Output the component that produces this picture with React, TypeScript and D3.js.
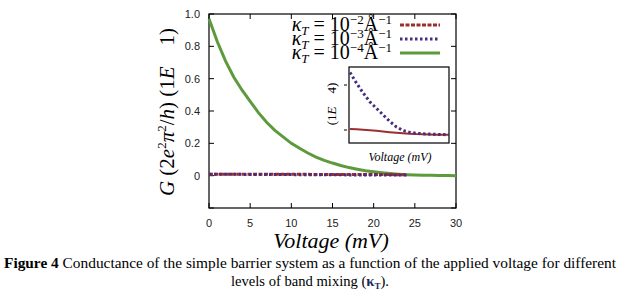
import React from 'react';
import * as d3 from 'd3';

const W = 620;
const H = 293;
const margin = { top: 14, right: 164, bottom: 85, left: 209 };

// voltage samples (mV)
const voltage = [0, 1, 2, 3, 4, 5, 6, 7, 8, 9, 10, 11, 12, 13, 14, 15, 16, 17, 18, 19, 20, 21, 22, 23, 24, 25, 26, 27, 28, 29, 30];
// kappa_T = 1e-4, main panel
const g4 = [0.97, 0.83, 0.71, 0.61, 0.53, 0.46, 0.39, 0.33, 0.28, 0.24, 0.2, 0.17, 0.14, 0.115, 0.095, 0.078, 0.063, 0.05, 0.04, 0.031, 0.024, 0.018, 0.013, 0.009, 0.006, 0.004, 0.003, 0.002, 0.001, 0.0005, 0];
// kappa_T = 1e-2 and 1e-3 in the main panel (near zero)
const mainV = [0, 4, 8, 12, 16, 20, 24];
const g2Main = [0.009, 0.009, 0.008, 0.008, 0.007, 0.007, 0.006];
const g3Main = [0.008, 0.008, 0.007, 0.006, 0.005, 0.004, 0.004];
// inset (units of 1E-4)
const insetV = [0, 2, 4, 6, 8, 10, 12, 14, 16, 18, 20, 22, 24, 26, 28, 30];
const g3Inset = [6.5, 5.5, 4.6, 3.8, 3.2, 2.6, 2.0, 1.5, 1.15, 1.0, 0.9, 0.85, 0.82, 0.8, 0.78, 0.76];
const g2Inset = [1.3, 1.26, 1.22, 1.17, 1.12, 1.06, 1.0, 0.95, 0.9, 0.86, 0.82, 0.8, 0.78, 0.77, 0.76, 0.76];

const xTicks = [0, 5, 10, 15, 20, 25, 30];
const yTicks = [-0.2, 0, 0.2, 0.4, 0.6, 0.8, 1.0];
const yTickLabels = ['', '0', '0.2', '0.4', '0.6', '0.8', '1.0'];

const RED = '#9c2f2c';
const PURPLE = '#4a2c7c';
const GREEN = '#5c9a3c';

const serif = '"Liberation Serif", "DejaVu Serif", serif';
const sans = '"Liberation Sans", "DejaVu Sans", sans-serif';
const nb = '\u00a0';

const x = d3.scaleLinear().domain([0, 30]).range([margin.left, W - margin.right]);
const y = d3.scaleLinear().domain([-0.2, 1.0]).range([H - margin.bottom, margin.top]);

const ix = d3.scaleLinear().domain([0, 30]).range([350, 449]);
const iy = d3.scaleLinear().domain([0, 7]).range([143, 67]);

function lineOf(xs: number[], ys: number[], sx: any, sy: any) {
  return d3.line<number>().x((d, i) => sx(xs[i])).y((d) => sy(d))(ys) || '';
}

const legend = [
  { exp: '−2', color: RED, dash: '4,1.5', width: 3 },
  { exp: '−3', color: PURPLE, dash: '2.5,2.5', width: 3 },
  { exp: '−4', color: GREEN, dash: undefined, width: 3 },
];

export default function App() {
  const x0 = margin.left;
  const x1 = W - margin.right;
  const y0 = margin.top;
  const y1 = H - margin.bottom;
  return (
    <svg width={W} height={H} style={{ position: 'absolute', left: 0, top: 0, background: '#fff' }}>
      {/* frame */}
      <rect x={x0} y={y0} width={x1 - x0} height={y1 - y0} fill="none" stroke="#000" strokeWidth={1.2} />
      {xTicks.map((t) => (
        <g key={'x' + t}>
          <line x1={x(t)} x2={x(t)} y1={y1} y2={y1 - 5} stroke="#000" />
          <line x1={x(t)} x2={x(t)} y1={y0} y2={y0 + 5} stroke="#000" />
          <text x={x(t)} y={227} textAnchor="middle" fontFamily={sans} fontSize={11} fill="#222">{t}</text>
        </g>
      ))}
      {yTicks.map((t, i) => (
        <g key={'y' + t}>
          <line x1={x0} x2={x0 + 5} y1={y(t)} y2={y(t)} stroke="#000" />
          <line x1={x1} x2={x1 - 5} y1={y(t)} y2={y(t)} stroke="#000" />
          <text x={200} y={y(t) + 4} textAnchor="end" fontFamily={sans} fontSize={11} fill="#222">{yTickLabels[i]}</text>
        </g>
      ))}

      {/* main curves */}
      <path d={lineOf(voltage, g4, x, y)} fill="none" stroke={GREEN} strokeWidth={3} />
      <path d={lineOf(mainV, g2Main, x, y)} fill="none" stroke={RED} strokeWidth={3} strokeDasharray="4,1.5" />
      <path d={lineOf(mainV, g3Main, x, y)} fill="none" stroke={PURPLE} strokeWidth={3} strokeDasharray="2.5,2.5" />

      {/* inset */}
      <rect x={349} y={67} width={100} height={76} fill="#fff" stroke="#000" strokeWidth={1.2} />
      <line x1={344} x2={347} y1={85} y2={85} stroke="#000" />
      <line x1={344} x2={347} y1={130} y2={130} stroke="#000" />
      <path d={lineOf(insetV, g2Inset, ix, iy)} fill="none" stroke={RED} strokeWidth={2} />
      <path d={lineOf(insetV, g3Inset, ix, iy)} fill="none" stroke={PURPLE} strokeWidth={3} strokeDasharray="2.5,2.5" />
      <text x={400} y={161} textAnchor="middle" fontFamily={serif} fontStyle="italic" fontSize={12}>
        Voltage (mV)
      </text>
      <text transform="translate(336,104) rotate(-90)" textAnchor="middle" fontFamily={serif} fontSize={13}>
        {'(1'}<tspan fontStyle="italic">E</tspan>{nb + nb + nb + nb + '4)'}
      </text>

      {/* legend */}
      {legend.map((l, i) => (
        <g key={l.exp}>
          <text x={392} y={31 + i * 14} textAnchor="end" fontFamily={serif} fontSize={20}>
            <tspan fontStyle="italic">κ</tspan>
            <tspan fontStyle="italic" fontSize={13} dy={4}>T</tspan>
            <tspan dy={-4}>{nb + '=' + nb + '10'}</tspan>
            <tspan fontSize={13} dy={-7}>{l.exp}</tspan>
            <tspan dy={7}>Å</tspan>
            <tspan fontSize={13} dy={-7}>−1</tspan>
          </text>
          <line x1={400} x2={440} y1={25 + i * 14} y2={25 + i * 14} stroke={l.color} strokeWidth={l.width} strokeDasharray={l.dash} />
        </g>
      ))}

      {/* axis labels */}
      <text x={331} y={248} textAnchor="middle" fontFamily={serif} fontStyle="italic" fontSize={22}>
        Voltage (mV)
      </text>
      <text transform="translate(174,112) rotate(-90)" textAnchor="middle" fontFamily={serif} fontSize={21}>
        <tspan fontStyle="italic">G</tspan>
        <tspan>{nb + '(2'}</tspan>
        <tspan fontStyle="italic">e</tspan>
        <tspan fontSize={13} dy={-8}>2</tspan>
        <tspan fontStyle="italic" dy={8}>π</tspan>
        <tspan fontSize={13} dy={-8}>2</tspan>
        <tspan dy={8}>/</tspan>
        <tspan fontStyle="italic">h</tspan>
        <tspan>{')' + nb + '(1'}</tspan>
        <tspan fontStyle="italic">E</tspan>
        <tspan>{nb + nb + nb + nb + '1)'}</tspan>
      </text>

      {/* caption */}
      <text x={310} y={268} textAnchor="middle" fontFamily={serif} fontSize={14.6} textLength={612} lengthAdjust="spacingAndGlyphs">
        <tspan fontWeight="bold">Figure 4</tspan> Conductance of the simple barrier system as a function of the applied voltage for different
      </text>
      <text x={310} y={286} textAnchor="middle" fontFamily={serif} fontSize={14.6}>
        levels of band mixing (<tspan fontWeight="bold" fill="#1a2a55">κ</tspan>
        <tspan fontWeight="bold" fill="#1a2a55" fontSize={9} dy={3}>T</tspan>
        <tspan dy={-3}>).</tspan>
      </text>
    </svg>
  );
}
